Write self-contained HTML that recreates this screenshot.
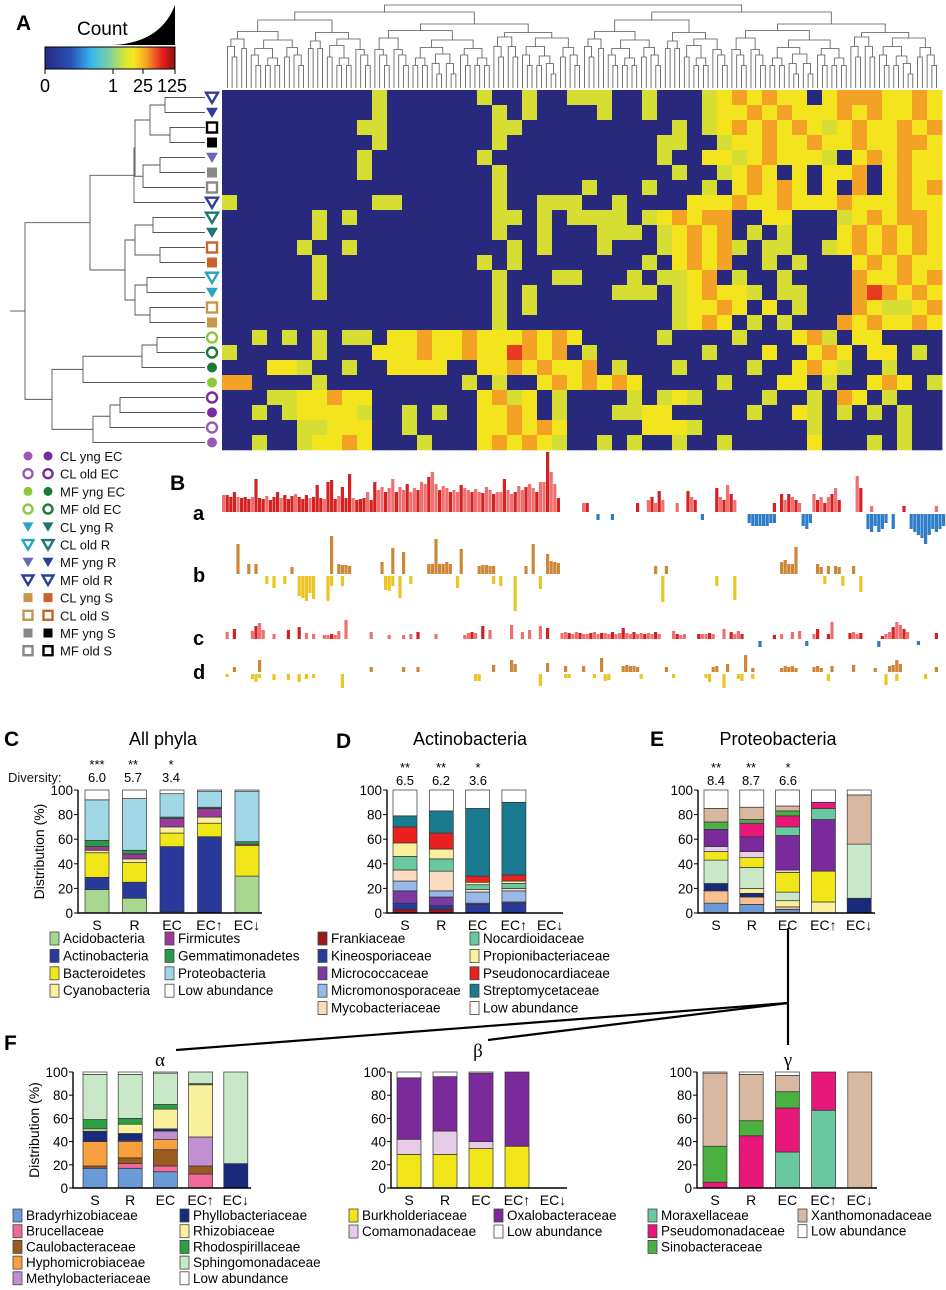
<!DOCTYPE html>
<html><head><meta charset="utf-8">
<style>
html,body{margin:0;padding:0;background:#fff;}
svg{display:block;font-family:"Liberation Sans",sans-serif;}
.t{font-size:13px;fill:#111;}
.pl{font-size:21px;font-weight:bold;fill:#000;}
</style></head>
<body>
<svg id="fig" width="946" height="1290" viewBox="0 0 946 1290">
<defs>
<linearGradient id="cbar" x1="0" x2="1" y1="0" y2="0">
<stop offset="0" stop-color="#262a80"/><stop offset="0.2" stop-color="#2a50b8"/><stop offset="0.36" stop-color="#3ab8ec"/><stop offset="0.5" stop-color="#80d0a0"/><stop offset="0.62" stop-color="#d8e830"/><stop offset="0.68" stop-color="#f5e820"/><stop offset="0.78" stop-color="#f5a024"/><stop offset="0.9" stop-color="#e82020"/><stop offset="1" stop-color="#901010"/>
</linearGradient>
</defs>
<text x="16" y="30" class="pl">A</text>
<text x="77" y="35" font-size="19">Count</text>
<path d="M110 45 Q160 44 175 5 L175 45 Z" fill="#000"/>
<rect x="45" y="47" width="130" height="22" fill="url(#cbar)" stroke="#000"/>
<g font-size="18" text-anchor="middle">
<line x1="45" y1="69" x2="45" y2="74" stroke="#000"/><line x1="113" y1="69" x2="113" y2="74" stroke="#000"/><line x1="143" y1="69" x2="143" y2="74" stroke="#000"/><line x1="175" y1="69" x2="175" y2="74" stroke="#000"/>
<text x="45" y="92">0</text><text x="113" y="92">1</text><text x="143" y="92">25</text><text x="172" y="92">125</text>
</g>
<g id="topdend" stroke="#555" stroke-width="0.8" fill="none"></g>
<g id="leftdend" stroke="#555" stroke-width="0.9" fill="none"></g>
<g id="heat"></g>
<g id="markers"></g>
<g id="leg"></g>
<text x="170" y="490" class="pl">B</text>
<g font-size="20" font-weight="bold">
<text x="193" y="520">a</text><text x="193" y="582">b</text><text x="193" y="645">c</text><text x="193" y="679">d</text></g>
<g id="pb"></g>
<g id="stacks"></g>
<g>
<text x="4" y="746" class="pl">C</text><text x="336" y="748" class="pl">D</text><text x="650" y="746" class="pl">E</text>
<text x="163" y="745" font-size="18" text-anchor="middle">All phyla</text>
<text x="470" y="745" font-size="18" text-anchor="middle">Actinobacteria</text>
<text x="778" y="745" font-size="18" text-anchor="middle">Proteobacteria</text>
<text x="8" y="782" class="t">Diversity:</text>
<text x="4" y="1050" class="pl">F</text>
</g>
<g font-size="13" text-anchor="middle">
<text x="97" y="769">***</text><text x="133" y="769">**</text><text x="171" y="769">*</text>
<text x="97" y="782">6.0</text><text x="133" y="782">5.7</text><text x="171" y="782">3.4</text>
<text x="405" y="772">**</text><text x="441" y="772">**</text><text x="478" y="772">*</text>
<text x="405" y="785">6.5</text><text x="441" y="785">6.2</text><text x="478" y="785">3.6</text>
<text x="716" y="772">**</text><text x="751" y="772">**</text><text x="788" y="772">*</text>
<text x="716" y="785">8.4</text><text x="751" y="785">8.7</text><text x="788" y="785">6.6</text>
</g>
<g stroke="#000" stroke-width="2.2">
<line x1="788" y1="928" x2="788" y2="1045"/><line x1="788" y1="1003" x2="176" y2="1050"/><line x1="788" y1="1003" x2="488" y2="1040"/>
</g>
<g font-size="19" text-anchor="middle" font-family="Liberation Serif,serif">
<text x="160" y="1066">α</text><text x="478" y="1057">β</text><text x="788" y="1066">γ</text></g>
</svg>
<script>
const NS='http://www.w3.org/2000/svg';
function mk(tag,attrs,parent,txt){const e=document.createElementNS(NS,tag);for(const k in attrs)e.setAttribute(k,attrs[k]);if(txt!==undefined)e.textContent=txt;parent.appendChild(e);return e;}

/* ---------- heatmap data: one string per sample row, 48 column bins ---------- */
const heatRows=[
"..........g......g..g..ggg..g...gyoyoyy.yoooyyoyy",
"..........g.......g.g....g..g...gyyoyoyyyoyoyyoyg",
".........gg.......gg..........g.gyoyoyoygyoyyoyoy",
"..........g.......g..........gg..gyyoyyoyyoyyooyy",
".........g.......g...........g..yygyoyyyg.yoyoyyy",
".........g........g...........g..gyoy.y.yyo.yoyyg",
"..................g.....g...g...g.yoyoy.y.o.yoyoy",
"g.........gg......g..ggg..g....yyyoyyoyyyoyyyoyyg",
"......g.g.........gg.g.gggg.gyoyoo..yy...gyoyooyyy",
"......g...........g..g...ggg.gyoyo.g.g...yoyoyoyy.",
".....g..g..........g.g...g...gyoyog.gg..gyoyoyoyoy",
"......g..........g.g........g.yoyo..g.g...yoyoyyoy",
"......g...........g...gg...g.ggyo.g..g....oyyoyoyoy",
"......g...........g.g.....ggg.gyoyyg.gg...oroyoyyoy",
"..................g.g.........gyyoy.y.g...oyggyoyoy",
"..................g...........gyoy.g.g...oyoyyoyoy",
"..g.g.g.gg.yyoyyoyyyoyoy.....g....g...yog.yy......",
"g.....g...yyyoyyoyyroyo.g.......g...y..yoy.yy.g...",
"...yyg..g..yyyy..yyoyoyyo.g...g....g..yoyg..g.....",
"oo....g.........g.g..yoyoyoy.....g...yy.g..yoy.g..",
"...ggyyoyy.......yogy.g....g.gyg....g..g.oy.g.....",
"..g.gyyyyg..g.g..yyoy.g...ggyy.....g..yg.g.g.g....",
".....ggyyy..g....yyoyoy.....yyyg.......g.....g....",
"..g..gyyoy...g...yoyoyg..g.g..g..g.....y...g.g...."];
const heatLevels={'.':'#28297d','g':'#d6de34','y':'#f4e41e','o':'#f4a226','r':'#e63a22'};
const HX0=222,HX1=942,HY0=90,ROWH=15,NCOL=48;
const heat=document.getElementById('heat');
const cw=(HX1-HX0)/NCOL;
heatRows.forEach((row,r)=>{
  for(let c=0;c<NCOL;c++){
    const ch=row[c]||'.';
    const rc=mk('rect',{x:(HX0+c*cw).toFixed(2),y:HY0+r*ROWH,width:(cw+0.4).toFixed(2),height:ROWH+0.3,fill:heatLevels[ch]||heatLevels['.']},heat);
    
    
  }
});

/* ---------- row markers ---------- */
const markerShapes=["tri-o","tri","sq-o","sq","tri","sq","sq-o","tri-o","tri-o","tri","sq-o","sq","tri-o","tri","sq-o","sq","c-o","c-o","c","c","c-o","c","c-o","c"];
const markerColors=["#2e3c9c","#2e3c9c","#000","#000","#6a66b8","#888","#888","#2e3c9c","#1c7474","#1c7474","#c8642a","#c8642a","#2aa4c0","#2aa4c0","#c8964a","#c8964a","#8cc83c","#1a7a3a","#1a7a3a","#8cc83c","#7a2a9a","#7a2a9a","#9a5ab4","#9a5ab4"];
function marker(g,shape,col,cx,cy,s){
  let e;
  const open=shape.endsWith('-o');
  const fill=open?'#fff':col, sw=open?2.4:0;
  if(shape.startsWith('tri')) e=mk('polygon',{points:`${cx-s},${cy-s*0.8} ${cx+s},${cy-s*0.8} ${cx},${cy+s*0.9}`,fill:fill,stroke:col,'stroke-width':sw},g);
  else if(shape.startsWith('sq')) e=mk('rect',{x:cx-s+1,y:cy-s+1,width:2*s-2,height:2*s-2,fill:fill,stroke:col,'stroke-width':sw},g);
  else e=mk('circle',{cx:cx,cy:cy,r:s-1,fill:fill,stroke:col,'stroke-width':sw},g);
  return e;
}
const mg=document.getElementById('markers');
markerShapes.forEach((s,i)=>{
  const e=marker(mg,s,markerColors[i],212,HY0+ROWH*i+7.5,6);
  
  
});

/* ---------- left dendrogram ---------- */
const merges=[[0,1,165],[2,3,170],["a","b",150],[4,5,160],["d",6,143],["c","e",135],["f",7,134],
[8,9,153],[10,11,160],["h","i",135],[12,13,147],[14,15,150],["k","l",135],["j","m",125],["g","n",90],
[16,17,157],["p",18,142],["q",19,83],[20,21,120],["s",22,110],["t",23,93],["r","u",52],["o","v",25]];
const ld=document.getElementById('leftdend');
const nodes={};const names="abcdefghijklmnopqrstuvw";
function nodeInfo(k){if(typeof k==='number')return {x:205,y:HY0+ROWH*k+7.5};return nodes[k];}
merges.forEach((m,i)=>{
  const A=nodeInfo(m[0]),B=nodeInfo(m[1]),x=m[2];
  const p=mk('path',{d:`M${A.x} ${A.y} H${x} V${B.y} H${B.x}`},ld);
  
  
  nodes[names[i]]={x:x,y:(A.y+B.y)/2};
});
const rootLine=mk('line',{x1:10,y1:nodes['w'].y,x2:25,y2:nodes['w'].y},ld);

/* ---------- top dendrogram (structure only) ---------- */
const td=document.getElementById('topdend');
const NLEAF=150;
function build(lo,hi,depth){
  if(hi<=lo){const x=HX0+3+(lo+0.5)*(HX1-HX0-6)/NLEAF;return {x:x,y:88};}
  const f=[0.5,0.42,0.58,0.35,0.62,0.47][depth%6];
  const mid=lo+Math.max(0,Math.min(hi-lo-1,Math.floor((hi-lo+1)*f)-1));
  const L=build(lo,mid,depth+1),R=build(mid+1,hi,depth+1);
  const y=Math.min(84,3+depth*(depth<2?7:8.5)+((lo*7+hi*3)%5));
  const p=mk('path',{d:`M${L.x.toFixed(1)} ${L.y} V${y} H${R.x.toFixed(1)} V${R.y}`},td);
  
  
  return {x:(L.x+R.x)/2,y:y};
}
build(0,NLEAF-1,0);

/* ---------- sample legend ---------- */
const legLabels=["CL yng EC","CL old EC","MF yng EC","MF old EC","CL yng R","CL old R","MF yng R","MF old R","CL yng S","CL old S","MF yng S","MF old S"];
const legShapes=[["c","c"],["c-o","c-o"],["c","c"],["c-o","c-o"],["tri","tri"],["tri-o","tri-o"],["tri","tri"],["tri-o","tri-o"],["sq","sq"],["sq-o","sq-o"],["sq","sq"],["sq-o","sq-o"]];
const legCols=[["#9a5ab4","#7a2a9a"],["#9a5ab4","#7a2a9a"],["#8cc83c","#1a7a3a"],["#8cc83c","#1a7a3a"],["#2aa4c0","#1c7474"],["#2aa4c0","#1c7474"],["#6a66b8","#2e3c9c"],["#2e3c9c","#2e3c9c"],["#c8964a","#c8642a"],["#c8964a","#c8642a"],["#888","#000"],["#888","#000"]];
const lg=document.getElementById('leg');
legLabels.forEach((l,i)=>{
  const y=456+i*17.7;
  const m1=marker(lg,legShapes[i][0],legCols[i][0],28,y,5.5);
  
  
  const m2=marker(lg,legShapes[i][1],legCols[i][1],48,y,5.5);
  
  
  const t=mk('text',{x:60,y:y+5,class:'t'},lg,l);
  
  
});

/* ---------- panel B bar data ---------- */
const aDense=[17,17,15,20,15,14,15,13,15,33,14,13,16,12,15,20,14,17,13,16,18,15,13,17,14,15,27,14,13,30,32,13,16,25,14,38,14,12,13,14,20,12,30,
22,25,20,24,33,20,25,22,28,20,24,22,30,28,35,40,28,22,26,24,20,22,20,27,24,22,20,23,20,19,25,22,18,20,20,33,22,18,20,26,22,25,28,24,20,30,30,60,40,28,14];
const aUpIdx=[100,101,115,118,119,120,121,122,126,129,130,131,137,138,139,140,141,142,153,155,156,157,158,159,160,164,165,166,167,168,169,170,171,176,177,180,189,198];
const aUpVal=[9,9,9,12,15,9,21,12,9,21,15,12,24,15,12,27,18,12,9,18,12,18,15,12,9,18,12,15,9,15,18,24,12,36,24,6,6,6];
const aDnIdx=[104,108,133,146,147,148,149,150,151,152,153,161,162,163,179,180,181,182,183,184,186,191,192,193,194,195,196,197,198,199,200];
const aDnVal=[6,6,6,9,12,12,12,12,12,9,9,12,15,9,15,18,12,18,15,9,15,15,18,21,24,30,21,15,18,15,12];
const bUpIdx=[4,7,9,19,30,32,33,34,35,44,47,50,57,58,59,60,61,62,63,66,71,72,73,74,75,84,86,90,91,92,93,120,123,155,156,157,158,159,165,166,168,170,171,175];
const bUpVal=[30,10,10,7,38,10,9,9,8,12,26,22,10,10,35,10,10,12,10,25,8,9,9,8,8,8,30,20,13,12,11,8,8,12,14,10,10,27,10,7,8,8,7,8];
const bDnIdx=[12,14,17,21,22,23,24,25,29,30,33,45,46,47,49,52,65,75,77,81,88,122,137,142,167,172,177];
const bDnVal=[8,12,8,20,22,25,17,23,25,10,10,14,15,10,22,8,12,8,10,35,13,26,10,24,8,10,16];
const cUpIdx=[1,3,8,9,10,11,14,18,21,23,25,28,29,30,31,32,34,41,46,50,52,54,59,67,68,69,70,72,74,80,83,85,88,90,
94,95,96,97,98,99,100,101,102,103,104,105,106,107,108,109,110,111,112,113,114,115,116,117,118,119,120,121,
125,126,127,128,132,133,134,135,136,139,141,142,143,144,153,155,158,160,164,165,168,169,174,175,176,177,183,184,185,186,187,188,189,190,198];
const cUpVal=[7,10,8,13,16,9,5,9,12,6,5,4,4,5,4,8,19,7,4,4,5,7,5,4,6,7,6,13,9,14,7,9,13,11,
6,7,6,5,7,6,5,5,6,7,5,6,6,5,7,5,6,11,6,5,7,5,6,5,6,5,7,5,
8,5,4,5,5,5,5,6,5,10,7,5,8,5,4,5,7,8,5,10,5,17,6,7,5,6,3,5,7,12,17,14,10,7,6];
const cDnIdx=[149,162,182,193];
const cDnVal=[6,5,6,4];
const dUpIdx=[3,10,41,50,54,75,80,81,90,95,100,105,111,112,113,114,115,123,136,137,140,145,147,155,156,157,158,159,164,165,166,169,175,181,185,186,187,188,198];
const dUpVal=[5,12,5,5,5,7,12,8,9,6,6,14,6,7,6,6,5,5,5,6,8,17,4,4,6,5,6,4,5,6,4,6,7,4,6,7,12,8,5];
const dDnIdx=[1,8,9,10,14,18,21,23,25,33,70,71,88,95,96,103,106,107,116,125,134,135,139,143,144,147,168,184,187,195];
const dDnVal=[3,5,8,4,6,6,8,5,4,14,7,7,12,4,4,4,7,6,5,4,4,8,14,5,7,5,7,11,7,5];
const pb=document.getElementById('pb');
const BW=3.6, BX0=222;
function bx(i){return BX0+i*BW;}
function bars(idx,vals,base,dir,colorFn,name){
  idx.forEach((i,k)=>{
    const h=vals[k];
    const r=mk('rect',{x:bx(i).toFixed(1),y:dir>0?base-h:base,width:BW-0.4,height:h,fill:colorFn(i)},pb);
    
    
  });
}
const LR='#f07070',DR='#d22222';
bars(aDense.map((v,i)=>i),aDense,512,1,i=>i<43?(i%4==0?LR:DR):(i%3==0?DR:LR),'bar-a-enriched');
bars(aUpIdx,aUpVal,512,1,i=>i%2?DR:LR,'bar-a-enriched');
bars(aDnIdx,aDnVal,514,-1,()=>'#2f7cc8','bar-a-depleted');
bars(bUpIdx,bUpVal,574,1,()=>'#cc8838','bar-b-up');
bars(bDnIdx,bDnVal,576,-1,()=>'#ecc424','bar-b-down');
bars(cUpIdx,cUpVal,639,1,i=>i%3==0?DR:LR,'bar-c-up');
bars(cDnIdx,cDnVal,641,-1,()=>'#2f7cc8','bar-c-down');
bars(dUpIdx,dUpVal,672,1,()=>'#cc8838','bar-d-up');
bars(dDnIdx,dDnVal,674,-1,()=>'#ecc424','bar-d-down');

/* ---------- stacked bar charts ---------- */
const xCats=["S","R","EC","EC↑","EC↓"];
const phylaNames=["Acidobacteria","Actinobacteria","Bacteroidetes","Cyanobacteria","Firmicutes","Gemmatimonadetes","Proteobacteria","Low abundance"];
const phylaColors=["#a8d890","#2a3a9a","#f0e618","#f8f09c","#9a3a9a","#2a9a4a","#a0d8e8","#fff"];
const phylaS=[19,10,20,2,3,5,33,8], phylaR=[12,13,16,3,4,3,42,7], phylaEC=[1,53,11,5,7,1,19,3], phylaUp=[0,62,11,5,7,1,13,1], phylaDn=[30,0,25,0,1,2,41,1];
const actNames=["Frankiaceae","Kineosporiaceae","Micrococcaceae","Micromonosporaceae","Mycobacteriaceae","Nocardioidaceae","Propionibacteriaceae","Pseudonocardiaceae","Streptomycetaceae","Low abundance"];
const actColors=["#9a1a1a","#2a3a9a","#7a3aa0","#98b8e8","#fcdcc0","#6ac8a0","#f8f09c","#e82020","#1a7a90","#fff"];
const actS=[3,5,10,8,9,11,11,13,9,21], actR=[3,3,7,5,16,10,8,13,18,17], actEC=[0,7,1,9,2,4,2,5,55,15], actUp=[0,8,1,9,2,4,2,5,59,10], actDn=[];
const protColors=["#6a9ad8","#f8c090","#1a2a7a","#f8f09c","#c8e8c8","#f0e618","#e8d0e8","#7a2a9a","#6ac8a0","#e8187a","#4ab040","#d8b8a0","#fff"];
const protS=[8,10,6,0,19,7,4,14,0,0,6,11,15], protR=[7,6,3,4,17,8,5,12,0,11,3,10,14], protEC=[3,2,0,5,7,16,2,28,7,9,4,4,13], protUp=[0,0,0,9,0,25,0,42,9,5,0,0,10], protDn=[0,0,12,0,44,0,0,0,0,0,0,40,4];
const alphaNames=["Bradyrhizobiaceae","Brucellaceae","Caulobacteraceae","Hyphomicrobiaceae","Methylobacteriaceae","Phyllobacteriaceae","Rhizobiaceae","Rhodospirillaceae","Sphingomonadaceae","Low abundance"];
const alphaColors=["#6a9ad8","#f06a9a","#9a5a20","#f8a040","#c090d0","#1a2a7a","#f8f09c","#2aa040","#c8e8c8","#fff"];
const alphaS=[17,0,2,21,0,9,2,8,39,2], alphaR=[17,4,5,14,1,6,8,5,38,2], alphaEC=[14,5,14,9,7,2,17,4,27,1], alphaUp=[0,12,7,0,25,0,45,1,10,0], alphaDn=[0,0,0,0,0,21,0,0,79,0];
const betaNames=["Burkholderiaceae","Comamonadaceae","Oxalobacteraceae","Low abundance"];
const betaColors=["#f0e618","#e6cce6","#7a2a9a","#fff"];
const betaS=[29,13,53,5], betaR=[29,20,47,4], betaEC=[34,6,59,1], betaUp=[36,0,64,0], betaDn=[];
const gammaNames=["Moraxellaceae","Pseudomonadaceae","Sinobacteraceae","Xanthomonadaceae","Low abundance"];
const gammaColors=["#6ac8a0","#e8187a","#4ab040","#d8b8a0","#fff"];
const gammaS=[0,5,31,63,1], gammaR=[0,45,13,40,2], gammaEC=[31,38,14,14,3], gammaUp=[67,33,0,0,0], gammaDn=[0,0,0,100,0];
const stacks=document.getElementById('stacks');

function chart(cfg){
  const g=mk('g',{},stacks);
  
  
  const yS=v=>cfg.y0-v/100*cfg.h;
  cfg.data.forEach((vals,bi)=>{
    const x=cfg.bx0+bi*cfg.step;
    let acc=0;
    vals.forEach((v,si)=>{
      if(v<=0)return;
      const r=mk('rect',{x:x,y:yS(acc+v),width:cfg.bw,height:v/100*cfg.h,fill:cfg.colors[si],stroke:'#333','stroke-width':0.7},g);
      
      
      acc+=v;
    });
    const t=mk('text',{x:x+cfg.bw/2,y:cfg.y0+17,'text-anchor':'middle','font-size':14},g,xCats[bi]);
    
    
  });
  for(let k=xCats.length;k<5;k++){}
  // labels for empty categories
  for(let bi=cfg.data.length;bi<5;bi++){
    const x=cfg.bx0+bi*cfg.step;
    const t=mk('text',{x:x+cfg.bw/2,y:cfg.y0+17,'text-anchor':'middle','font-size':14},g,xCats[bi]);
    
    
  }
  const ax=mk('path',{d:`M${cfg.ax} ${yS(100)} V${cfg.y0} H${cfg.axEnd}`,stroke:'#000','stroke-width':1.4,fill:'none'},g);
  
  
  [0,20,40,60,80,100].forEach(v=>{
    mk('line',{x1:cfg.ax-4,x2:cfg.ax,y1:yS(v),y2:yS(v),stroke:'#000'},g);
    const t=mk('text',{x:cfg.ax-5,y:yS(v)+5,'text-anchor':'end','font-size':13.5},g,v);
    
    
  });
  if(cfg.ylabel){
    const t=mk('text',{x:0,y:0,transform:`translate(${cfg.ax-34},${yS(50)}) rotate(-90)`,'text-anchor':'middle','font-size':14},g,'Distribution (%)');
    
    
  }
  // legend
  const lgd=cfg.legend;
  if(lgd){
    lgd.names.forEach((n,i)=>{
      const col=Math.floor(i/lgd.rows), row=i%lgd.rows;
      const x=lgd.x[col], y=lgd.y0+row*lgd.dy;
      const sw=mk('rect',{x:x,y:y-6,width:9,height:13,fill:cfg.colors[lgd.map?lgd.map[i]:i],stroke:'#444','stroke-width':0.8},g);
      
      
      const t=mk('text',{x:x+13,y:y+5,'font-size':13.5},g,n);
      
      
    });
  }
}
chart({name:'chart-all-phyla',data:[phylaS,phylaR,phylaEC,phylaUp,phylaDn],colors:phylaColors,y0:913,h:123,bx0:85,step:37.5,bw:24,ax:78,axEnd:262,ylabel:true,
  legend:{names:phylaNames,rows:4,x:[50,165],y0:938,dy:17.4}});
chart({name:'chart-actinobacteria',data:[actS,actR,actEC,actUp],colors:actColors,y0:913,h:123,bx0:393,step:36.3,bw:24,ax:387,axEnd:563,ylabel:false,
  legend:{names:actNames,rows:5,x:[318,470],y0:938,dy:17.4}});
chart({name:'chart-proteobacteria',data:[protS,protR,protEC,protUp,protDn],colors:protColors,y0:913,h:123,bx0:704,step:35.8,bw:24,ax:698,axEnd:875,ylabel:false});
chart({name:'chart-alpha',data:[alphaS,alphaR,alphaEC,alphaUp,alphaDn],colors:alphaColors,y0:1188,h:116,bx0:83,step:35.2,bw:24,ax:73,axEnd:251,ylabel:true,
  legend:{names:alphaNames,rows:5,x:[13,180],y0:1215,dy:15.7}});
chart({name:'chart-beta',data:[betaS,betaR,betaEC,betaUp],colors:betaColors,y0:1188,h:116,bx0:397,step:36,bw:24,ax:391,axEnd:567,ylabel:false,
  legend:{names:betaNames,rows:2,x:[349,494],y0:1215,dy:16}});
chart({name:'chart-gamma',data:[gammaS,gammaR,gammaEC,gammaUp,gammaDn],colors:gammaColors,y0:1188,h:116,bx0:703,step:36.2,bw:24,ax:697,axEnd:877,ylabel:false,
  legend:{names:gammaNames,rows:3,x:[648,798],y0:1215,dy:15.7}});
</script>
</body></html>
